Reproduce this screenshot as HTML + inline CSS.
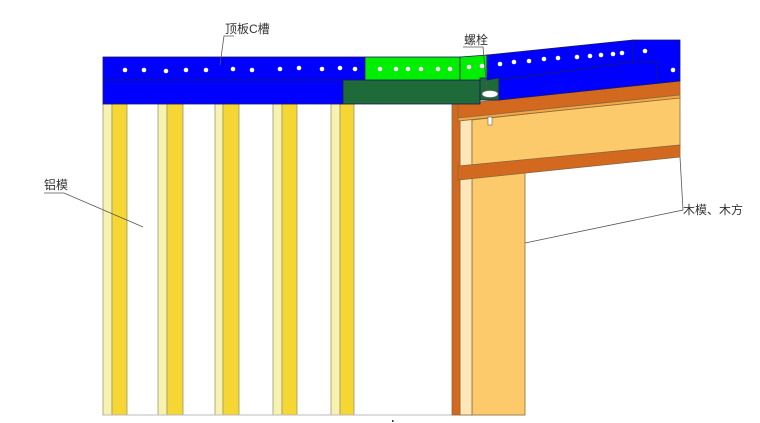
<!DOCTYPE html>
<html><head><meta charset="utf-8"><style>
html,body{margin:0;padding:0;background:#fff;width:760px;height:423px;overflow:hidden}
svg{display:block}
text{font-family:"Liberation Sans","Noto Sans CJK SC",sans-serif;font-size:12px;fill:#333}
</style></head><body>
<svg width="760" height="423" viewBox="0 0 760 423">
<g stroke="#9a9a70" stroke-width="0.8">
<rect x="103" y="104" width="9" height="311" fill="#f8f2b0"/><rect x="112" y="104" width="15" height="311" fill="#f6d632"/>
<rect x="158" y="104" width="9" height="311" fill="#f8f2b0"/><rect x="167" y="104" width="16" height="311" fill="#f6d632"/>
<rect x="215" y="104" width="8" height="311" fill="#f8f2b0"/><rect x="223" y="104" width="16" height="311" fill="#f6d632"/>
<rect x="273" y="104" width="9" height="311" fill="#f8f2b0"/><rect x="282" y="104" width="15" height="311" fill="#f6d632"/>
<rect x="331" y="104" width="9" height="311" fill="#f8f2b0"/><rect x="340" y="104" width="14" height="311" fill="#f6d632"/>
</g>
<line x1="103" y1="415" x2="525" y2="415" stroke="#bbb" stroke-width="1"/>
<g stroke="#8a6a40" stroke-width="0.8">
<polygon points="472,176 525,170 525,415 472,415" fill="#fcca6a"/>
<rect x="460" y="104" width="12" height="311" fill="#fde6b8"/>
<polygon points="472,120 680,97 680,147 472,167" fill="#fcca6a"/>
<rect x="452" y="104" width="8" height="311" fill="#d2691e"/>
<polygon points="458,104 680,81 680,95 458,118" fill="#d2691e"/>
<polygon points="458,118 680,95 680,98 458,121" fill="#f7a540"/>
<polygon points="458,166 680,145 680,157 458,180" fill="#d2691e"/>
</g>
<g stroke="#1a1a60" stroke-width="0.8">
<rect x="103" y="57" width="262" height="23" fill="#0000ff"/>
<rect x="103" y="80" width="240" height="24" fill="#0000ff"/>
<rect x="343" y="80" width="137" height="24" fill="#1e6a38"/>
<rect x="365" y="57" width="95" height="23" fill="#00ee00"/>
<polygon points="460,57 487,55 487,80 460,80" fill="#00ee00"/>
<rect x="480" y="78" width="19" height="22" fill="#1e6a38"/>
<polygon points="487,55 633,40 680,40 680,81 499,100 499,78 487,80" fill="#0000ff"/>
<polyline points="499,80 633,62 657,62 657,82" fill="none"/>
<line x1="633" y1="40" x2="633" y2="62"/>
</g>
<ellipse cx="490" cy="94" rx="8" ry="3.5" fill="#fff" stroke="#666" stroke-width="0.6"/>
<rect x="488" y="117" width="4" height="8" fill="#fff" stroke="#666" stroke-width="0.6"/>
<g fill="#fff">
<circle cx="125" cy="70" r="2.3"/><circle cx="144" cy="70" r="2.3"/><circle cx="166" cy="71" r="2.3"/><circle cx="186" cy="70" r="2.3"/><circle cx="206" cy="70" r="2.3"/><circle cx="233" cy="69" r="2.3"/><circle cx="252" cy="70" r="2.3"/><circle cx="280" cy="69" r="2.3"/><circle cx="299" cy="68" r="2.3"/><circle cx="322" cy="69" r="2.3"/><circle cx="340" cy="68" r="2.3"/><circle cx="355" cy="69" r="2.3"/>
<circle cx="380" cy="69" r="2.3"/><circle cx="396" cy="69" r="2.3"/><circle cx="408" cy="69" r="2.3"/><circle cx="421" cy="69" r="2.3"/><circle cx="438" cy="69" r="2.3"/><circle cx="450" cy="69" r="2.3"/><circle cx="469" cy="67" r="2.3"/><circle cx="482" cy="66" r="2.3"/>
<circle cx="500" cy="64" r="2.3"/><circle cx="514" cy="62" r="2.3"/><circle cx="529" cy="61" r="2.3"/><circle cx="544" cy="59" r="2.3"/><circle cx="558" cy="58" r="2.3"/><circle cx="577" cy="57" r="2.3"/><circle cx="590" cy="56" r="2.3"/><circle cx="601" cy="55" r="2.3"/><circle cx="613" cy="54" r="2.3"/><circle cx="622" cy="53" r="2.3"/><circle cx="645" cy="51" r="2.3"/><circle cx="673" cy="70" r="2.3"/>
</g>
<g stroke="#555" stroke-width="0.8" fill="none">
<polyline points="220,65 224,36 234,36"/>
<polyline points="463,47 483,47 487,90"/>
<polyline points="44,193 64,193 143,227"/>
<polyline points="525,243 683,210 680,157"/>
</g>
<text x="225" y="33" font-size="11">顶板C槽</text>
<text x="464" y="44" font-size="11">螺栓</text>
<text x="44" y="189" font-size="11">铝模</text>
<text x="683" y="214" font-size="11">木模、木方</text>
<rect x="392" y="420" width="1.5" height="2" fill="#333"/>
</svg>
</body></html>
